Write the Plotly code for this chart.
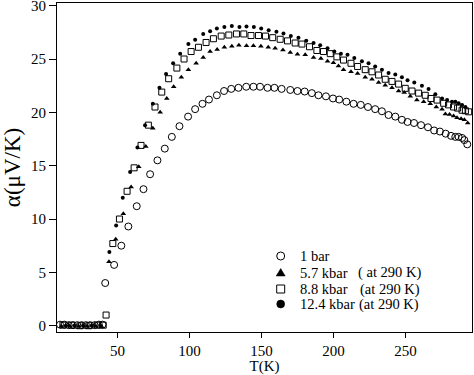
import plotly.graph_objects as go

# ---- data ----
T_1bar = [10, 13, 16, 19, 22, 25, 28, 31, 34, 37, 39.5,
          41.4, 47.6, 52.6, 57.5, 63.3, 68, 72.6, 77.7, 82.8, 87.7, 93, 99, 103.9, 109, 113.5,
          119, 124, 129, 134, 139.4, 144.4, 149, 154.2, 159, 164, 170, 175, 180, 185, 189.6,
          194.8, 199.7, 204, 209, 214, 219, 224, 229, 233.7, 238.3, 243, 247.6, 251.5, 256,
          260.9, 265.7, 270, 274, 278, 281.7, 284.7, 287, 289.4, 291, 293]
A_1bar = [0.1, 0.1, 0.05, 0.05, 0.05, 0.05, 0.05, 0.05, 0.05, 0.1, 0.1,
          4.0, 5.7, 7.5, 9.3, 11.2, 12.8, 14.2, 15.5, 16.6, 17.7, 18.7, 19.6, 20.3, 20.8, 21.2,
          21.6, 22.0, 22.2, 22.3, 22.4, 22.4, 22.4, 22.3, 22.3, 22.2, 22.1, 22.0, 21.95, 21.8, 21.6,
          21.5, 21.3, 21.2, 21.0, 20.8, 20.7, 20.5, 20.3, 20.1, 19.75, 19.6, 19.3, 19.1, 19.0,
          18.8, 18.6, 18.3, 18.2, 18.0, 17.8, 17.7, 17.7, 17.6, 17.4, 17.0]

T_57 = [11, 17, 23, 29, 35, 39,
        44, 48.7, 54, 59.4, 64.7, 69.6, 74.5, 79.6, 84.2, 89, 94.3, 99.2, 104.6, 109.5,
        114.3, 119.2, 124.2, 129.4, 134.3, 139.6, 144.4, 149.6, 154.7, 159.5, 164.9, 170,
        175, 180.4, 186.2, 191.3, 195.9, 200, 203.5, 207, 212.2, 216.8, 222.1, 226.8, 231.4,
        236, 240.7, 245.3, 249.2, 253.4, 258, 262.7, 267.3, 271.5, 275.5, 277.8, 280.7,
        283.5, 285.9, 288.7, 291, 293.3]
A_57 = [-0.05, -0.05, -0.05, -0.05, -0.05, -0.1,
        6.0, 8.1, 10.5, 13.0, 14.9, 16.8, 18.5, 20.0, 21.3, 22.4, 23.3, 24.0, 24.6, 25.15,
        25.7, 25.9, 26.1, 26.2, 26.3, 26.25, 26.25, 26.2, 26.1, 26.0, 25.85, 25.6,
        25.45, 25.4, 25.15, 25.05, 24.8, 24.65, 24.35, 24.0, 23.8, 23.65, 23.3, 23.1, 22.8,
        22.55, 22.3, 22.0, 21.85, 21.5, 21.15, 21.0, 20.8, 20.5, 20.3, 19.85, 19.8,
        19.65, 19.5, 19.4, 19.3, 19.0]

T_88 = [12, 18, 24, 30, 36, 40,
        42, 46.7, 51.3, 56.6, 61.5, 66.3, 71.4, 76, 80.7, 85.5, 91.2, 96.2, 101.1, 106.2,
        111.5, 116.6, 122, 127.3, 132.6, 137.7, 142.7, 147.9, 152.8, 157.8, 163, 168.1,
        173.4, 178.1, 183.4, 188.5, 193.1, 197.8, 202.4, 207, 212.2, 216.8, 222.1, 226.8,
        231.4, 236, 240.7, 245.3, 249.9, 254.6, 259.2, 263.8, 267.8, 272, 276.6, 280,
        283.5, 286.3, 289.4, 291.7, 294]
A_88 = [0.05, 0.05, 0.0, 0.0, 0.05, 0.05,
        1.0, 7.7, 10.0, 12.6, 14.8, 16.9, 18.8, 20.5, 21.9, 23.15, 24.15, 25.0, 25.7, 26.1,
        26.55, 26.9, 27.15, 27.25, 27.35, 27.35, 27.2, 27.2, 27.15, 27.0, 26.85, 26.7,
        26.5, 26.4, 26.15, 25.8, 25.7, 25.5, 25.2, 24.9, 24.6, 24.3, 24.0, 23.8,
        23.5, 23.1, 22.9, 22.65, 22.25, 22.0, 21.8, 21.6, 21.3, 21.15, 20.85, 20.7,
        20.5, 20.4, 20.2, 20.15, 20.05]

T_124 = [14, 20, 26, 32, 38,
         44.3, 49, 53.6, 58.7, 63.8, 69.1, 74.5, 79.1, 83.7, 88.6, 93.5, 99.2, 103.9, 109.5,
         114.3, 119, 124.2, 129.4, 134.7, 139.6, 144.7, 149.8, 155, 160.4, 165.3, 170.4,
         175.7, 181.1, 186.2, 190.8, 195.9, 200.6, 205.2, 209.8, 214.5, 219.8, 224.4, 229,
         233.7, 238.3, 243, 247.6, 251.5, 256.2, 261.5, 266.1, 270.8, 275.5, 279, 282.4,
         284.7, 287, 289.4, 291.7]
A_124 = [0.0, 0.0, 0.0, 0.0, 0.0,
         6.9, 9.4, 12.0, 14.4, 16.7, 18.8, 20.8, 22.3, 23.6, 24.6, 25.5, 26.4, 26.8, 27.35,
         27.6, 27.85, 28.0, 28.1, 28.0, 28.05, 28.0, 27.85, 27.7, 27.55, 27.4, 27.15,
         27.0, 26.7, 26.5, 26.3, 26.0, 25.7, 25.5, 25.4, 25.1, 24.8, 24.6, 24.3,
         24.0, 23.7, 23.55, 23.3, 23.0, 22.8, 22.5, 22.2, 21.7, 21.3, 21.15, 21.0,
         21.0, 20.85, 20.7, 20.5]

x_ticks = [50, 100, 150, 200, 250]
y_ticks = [0, 5, 10, 15, 20, 25, 30]

legend_labels = ["1 bar", "5.7 kbar", "8.8 kbar", "12.4 kbar"]
legend_notes = ["", "( at 290 K)", "(at 290 K)", "(at 290 K)"]

FONT = "Liberation Serif"

fig = go.Figure()
fig.add_trace(go.Scatter(x=T_1bar, y=A_1bar, mode="markers", name=legend_labels[0],
                         marker=dict(symbol="circle-open", size=7, color="black",
                                     line=dict(width=1, color="black"))))
fig.add_trace(go.Scatter(x=T_57, y=A_57, mode="markers", name=legend_labels[1],
                         marker=dict(symbol="triangle-up", size=5, color="black",
                                     line=dict(width=0))))
fig.add_trace(go.Scatter(x=T_88, y=A_88, mode="markers", name=legend_labels[2],
                         marker=dict(symbol="square-open", size=6, color="black",
                                     line=dict(width=1, color="black"))))
fig.add_trace(go.Scatter(x=T_124, y=A_124, mode="markers", name=legend_labels[3],
                         marker=dict(symbol="circle", size=4, color="black",
                                     line=dict(width=0))))

# ---- hand-drawn legend (compact row spacing like the original) ----
ML, MR, MT, MB = 57, 2, 3, 43
W, H = 474, 375
PW, PH = W - ML - MR, H - MT - MB

def px(x):
    return (x - ML) / PW

def py(y):
    return (H - MB - y) / PH

rows_y = [256, 272.5, 289, 304]
sym_x = 280.7
text_x = 297.5
note_x = [None, 355.5, 358, 356.5]

shapes = []
shapes.append(dict(type="circle", xref="paper", yref="paper", xsizemode="pixel", ysizemode="pixel",
                   xanchor=px(sym_x), yanchor=py(rows_y[0]), x0=-4, x1=4, y0=-4, y1=4,
                   line=dict(color="black", width=1), fillcolor="rgba(0,0,0,0)"))
shapes.append(dict(type="path", xref="paper", yref="paper", xsizemode="pixel", ysizemode="pixel",
                   xanchor=px(sym_x), yanchor=py(rows_y[1]),
                   path="M -4.5,-3.5 L 4.5,-3.5 L 0,4 Z",
                   line=dict(color="black", width=0.5), fillcolor="black"))
shapes.append(dict(type="rect", xref="paper", yref="paper", xsizemode="pixel", ysizemode="pixel",
                   xanchor=px(sym_x), yanchor=py(rows_y[2]), x0=-4, x1=4, y0=-4, y1=4,
                   line=dict(color="black", width=1), fillcolor="rgba(0,0,0,0)"))
shapes.append(dict(type="circle", xref="paper", yref="paper", xsizemode="pixel", ysizemode="pixel",
                   xanchor=px(sym_x), yanchor=py(rows_y[3]), x0=-4, x1=4, y0=-4, y1=4,
                   line=dict(color="black", width=0.5), fillcolor="black"))

annotations = []
for i, lab in enumerate(legend_labels):
    annotations.append(dict(x=px(text_x), y=py(rows_y[i]), xref="paper", yref="paper",
                            text=lab, showarrow=False, xanchor="left", yanchor="middle",
                            font=dict(family=FONT, size=14.5, color="black")))
    if legend_notes[i]:
        annotations.append(dict(x=px(note_x[i]), y=py(rows_y[i]), xref="paper", yref="paper",
                                text=legend_notes[i], showarrow=False, xanchor="left",
                                yanchor="middle",
                                font=dict(family=FONT, size=14.5, color="black")))

fig.update_layout(
    width=W, height=H,
    margin=dict(l=ML, r=MR, t=MT, b=MB, autoexpand=False),
    paper_bgcolor="white", plot_bgcolor="white",
    showlegend=False,
    font=dict(family=FONT, size=16, color="black"),
    shapes=shapes, annotations=annotations,
)
fig.update_xaxes(range=[7.9, 296.3], tickvals=x_ticks, ticks="outside", ticklen=5,
                 tickcolor="black", showline=True, linecolor="black", linewidth=1, mirror=True,
                 showgrid=False, zeroline=False, automargin=False, ticklabeloverflow="allow",
                 tickfont=dict(family=FONT, size=15),
                 title=dict(text="T(K)", standoff=3, font=dict(family=FONT, size=15)))
fig.update_yaxes(range=[-0.59, 30.25], tickvals=y_ticks, ticks="outside", ticklen=7,
                 tickcolor="black", showline=True, linecolor="black", linewidth=1, mirror=True,
                 showgrid=False, zeroline=False, automargin=False, ticklabeloverflow="allow",
                 tickfont=dict(family=FONT, size=15),
                 title=dict(text="α(μV/K)", standoff=15, font=dict(family=FONT, size=23)))

fig.write_html("out.html", config={"displayModeBar": False},
               post_script="document.body.style.margin='0';document.body.style.overflow='hidden';")
